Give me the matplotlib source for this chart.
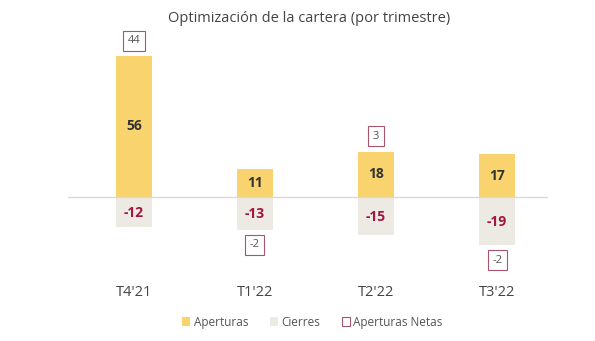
import numpy as np
import matplotlib
matplotlib.use("Agg")
import matplotlib.pyplot as plt
from matplotlib.patches import Patch

plt.rcParams['font.family'] = ['Open Sans', 'DejaVu Sans']

quarters = ["T4'21", "T1'22", "T2'22", "T3'22"]
aperturas = [56, 11, 18, 17]
cierres = [-12, -13, -15, -19]
netas = [44, -2, 3, -2]

yellow = "#F9D46E"
grey = "#EDEAE4"
red = "#A3173F"
box_edge = "#A8546A"

fig = plt.figure(figsize=(5.95, 3.41), dpi=100)
ax = fig.add_axes([0.114, 0.232, 0.807, 0.680])

x = np.arange(len(quarters))
w = 0.3
ax.bar(x, aperturas, width=w, color=yellow)
ax.bar(x, cierres, width=w, color=grey)
ax.axhline(0, color="#D9D9D9", lw=1, zorder=3)

for i in range(len(x)):
    ax.text(x[i], aperturas[i] / 2, str(aperturas[i]), ha="center", va="center",
            fontsize=10, fontweight="bold", color="#333333")
    ax.text(x[i], cierres[i] / 2 - 0.3, str(cierres[i]), ha="center", va="center",
            fontsize=10, fontweight="bold", color=red)
    box = dict(boxstyle="square,pad=0.4", fc="white", ec=box_edge, lw=0.8)
    if netas[i] > 0:
        ax.annotate(str(netas[i]), (x[i], aperturas[i]), xytext=(0, 11),
                    textcoords="offset points", ha="center", va="center",
                    fontsize=8, color="#555555", bbox=box)
    else:
        ax.annotate(str(netas[i]), (x[i], cierres[i]), xytext=(0, -11),
                    textcoords="offset points", ha="center", va="center",
                    fontsize=8, color="#555555", bbox=box)

ax.set_xlim(-0.545, 3.42)
ax.set_ylim(-25.8, 66.3)
ax.set_xticks(x)
ax.set_xticklabels(quarters, fontsize=10.5, color="#444444")
ax.tick_params(axis="x", length=0, pad=17)
ax.set_yticks([])
for s in ax.spines.values():
    s.set_visible(False)

fig.text(0.52, 0.947, "Optimización de la cartera (por trimestre)", ha="center", va="center",
         fontsize=10.5, color="#444444")

handles = [Patch(facecolor=yellow, label="Aperturas"),
           Patch(facecolor=grey, label="Cierres"),
           Patch(facecolor="white", edgecolor=box_edge, lw=0.8, label="Aperturas Netas")]
fig.legend(handles=handles, loc="center", bbox_to_anchor=(0.525, 0.055), ncol=3, frameon=False,
           fontsize=8.5, handlelength=0.7, handleheight=0.7, handletextpad=0.3, columnspacing=1.8,
           labelcolor="#555555")

fig.savefig("out.png", dpi=100)
